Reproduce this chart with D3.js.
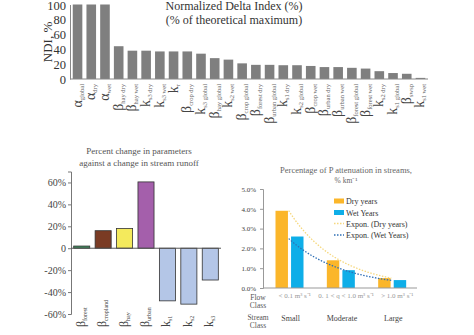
<!DOCTYPE html>
<html>
<head>
<meta charset="utf-8">
<script src="https://cdn.jsdelivr.net/npm/d3@7"></script>
<style>
body { margin: 0; background: #fff; }
svg text { font-family: "Liberation Serif", "Times New Roman", serif; }
</style>
</head>
<body>
<div id="chart"></div>
<script>
// top panel - normalized delta index
var ndiSymbols = ["α","α","α","β","β","k","k","k","β","k","β","k","β","β","β","k","k","β","β","β","β","β","k","k","β","k"];
var ndiSubs = ["global","dry","wet","hay dry","hay wet","s3 dry","s3 wet","r","crop dry","s3 global","hay global","s2 wet",
    "crop global","forest dry","urban global","s1 dry","s2 global","crop wet","urban dry","urban wet","forest global",
    "forest wet","s2 dry","s1 global","swsp","s1 wet"];
var ndiValues = [100,100,100,44,38,38,37,37,37,34,28,26,21,19,19,18.5,18.5,17.5,16,16,15,14,10.5,8,7,1.5];
var ndiTicks = [0,20,40,60,80,100];

// bottom left - percent change in parameters
var pcSymbols = ["β","β","β","β","k","k","k"];
var pcSubs = ["forest","cropland","hay","urban","s1","s2","s3"];
var pcValues = [2,16,18,60.5,-48,-51,-29];
var pcColors = ["#3f8f5f","#7a3b24","#f4ea5c","#a45fab","#b4c6e7","#b4c6e7","#b4c6e7"];
var pcTicks = [-60,-40,-20,0,20,40,60];

// bottom right - P attenuation
var streamClasses = ["Small","Moderate","Large"];
var flowClasses = ["< 0.1 m³ s⁻¹","0. 1 < q < 1.0 m³ s⁻¹","> 1.0 m³ s⁻¹"];
var dryYears = [3.9,1.4,0.5];
var wetYears = [2.6,0.9,0.4];
var attTicks = [0,1,2,3,4,5];

var svg = d3.select("#chart").append("svg")
    .attr("width", 474)
    .attr("height", 335);

function styleAxis(g, color) {
    g.selectAll("path, line").attr("stroke", color);
    g.select(".domain").attr("stroke", color);
}

// ---------- top chart ----------
function drawNdi() {
    var idx = d3.range(ndiValues.length);
    var x = d3.scaleBand().domain(idx).range([70, 428]).paddingInner(0.3).paddingOuter(0.2);
    var y = d3.scaleLinear().domain([0, 100]).range([79, 4.5]);

    svg.append("g").selectAll("rect")
        .data(idx)
        .enter().append("rect")
        .attr("x", function (i) { return x(i); })
        .attr("y", function (i) { return y(ndiValues[i]); })
        .attr("width", x.bandwidth())
        .attr("height", function (i) { return y(0) - y(ndiValues[i]); })
        .attr("fill", "#7f7f7f");

    var ya = svg.append("g")
        .attr("transform", "translate(70,0)")
        .call(d3.axisLeft(y).tickValues(ndiTicks).tickSize(0).tickPadding(4));
    ya.selectAll("text").attr("font-size", 12.5).attr("fill", "#333")
        .attr("dy", "0.36em")
        .style("font-family", "Liberation Serif");
    styleAxis(ya, "#888");

    svg.append("line")
        .attr("x1", 70).attr("x2", 428)
        .attr("y1", y(0)).attr("y2", y(0))
        .attr("stroke", "#888");

    var lab = svg.append("g").selectAll("text")
        .data(idx)
        .enter().append("text")
        .attr("transform", function (i) {
            return "translate(" + (x(i) + x.bandwidth() / 2 + 4) + ",84) rotate(-90)";
        })
        .attr("text-anchor", "end")
        .attr("fill", "#444");
    lab.append("tspan").attr("font-size", 14).text(function (i) { return ndiSymbols[i]; });
    lab.append("tspan").attr("font-size", 6.5).attr("dy", 2).attr("fill", "#666").text(function (i) { return ndiSubs[i]; });

    svg.append("text")
        .attr("transform", "translate(52,42) rotate(-90)")
        .attr("text-anchor", "middle")
        .attr("font-size", 13)
        .attr("fill", "#333")
        .text("NDI, %");

    svg.append("text").attr("x", 234).attr("y", 10).attr("text-anchor", "middle")
        .attr("font-size", 12).attr("fill", "#333").text("Normalized Delta Index (%)");
    svg.append("text").attr("x", 234).attr("y", 24).attr("text-anchor", "middle")
        .attr("font-size", 12).attr("fill", "#333").text("(% of theoretical maximum)");
}

// ---------- bottom left ----------
function drawPercentChange() {
    var idx = d3.range(pcValues.length);
    var x = d3.scaleBand().domain(idx).range([71, 221]).paddingInner(0.25).paddingOuter(0.125);
    var y = d3.scaleLinear().domain([-60, 70]).range([314, 171.5]);

    svg.append("g").selectAll("rect")
        .data(idx)
        .enter().append("rect")
        .attr("x", function (i) { return x(i); })
        .attr("y", function (i) { return y(Math.max(0, pcValues[i])); })
        .attr("width", x.bandwidth())
        .attr("height", function (i) { return Math.abs(y(pcValues[i]) - y(0)); })
        .attr("fill", function (i) { return pcColors[i]; })
        .attr("stroke", "#333")
        .attr("stroke-width", 0.8);

    var ya = svg.append("g")
        .attr("transform", "translate(71,0)")
        .call(d3.axisLeft(y).tickValues(pcTicks).tickSize(3).tickPadding(2)
            .tickFormat(function (d) { return d === 0 ? "0" : d + "%"; }));
    ya.selectAll("text").attr("font-size", 10).attr("fill", "#444")
        .style("font-family", "Liberation Serif");
    styleAxis(ya, "#777");

    svg.append("line")
        .attr("x1", 71).attr("x2", 221)
        .attr("y1", y(0)).attr("y2", y(0))
        .attr("stroke", "#555");

    var lab = svg.append("g").selectAll("text")
        .data(idx)
        .enter().append("text")
        .attr("transform", function (i) {
            return "translate(" + (x(i) + x.bandwidth() / 2 + 3) + ",327) rotate(-90)";
        })
        .attr("text-anchor", "start")
        .attr("fill", "#444");
    lab.append("tspan").attr("font-size", 12).text(function (i) { return pcSymbols[i]; });
    lab.append("tspan").attr("font-size", 6).attr("dy", 2).text(function (i) { return pcSubs[i]; });

    svg.append("text").attr("x", 139).attr("y", 154).attr("text-anchor", "middle")
        .attr("font-size", 9).attr("fill", "#555").text("Percent change in parameters");
    svg.append("text").attr("x", 139).attr("y", 166).attr("text-anchor", "middle")
        .attr("font-size", 9).attr("fill", "#555").text("against a change in stream runoff");
}

// exponential trend like excel: y = a * exp(b * n), n = 1..k
function expFit(vals) {
    var xs = vals.map(function (v, i) { return i + 1; });
    var ls = vals.map(function (v) { return Math.log(v); });
    var mx = d3.mean(xs), ml = d3.mean(ls);
    var num = d3.sum(xs, function (xv, i) { return (xv - mx) * (ls[i] - ml); });
    var den = d3.sum(xs, function (xv) { return (xv - mx) * (xv - mx); });
    var b = num / den;
    var a = Math.exp(ml - b * mx);
    return function (n) { return a * Math.exp(b * n); };
}

// ---------- bottom right ----------
function drawAttenuation() {
    var x = d3.scaleBand().domain(streamClasses).range([263, 417]);
    var sub = d3.scaleBand().domain(["dry", "wet"]).range([12.5, 40.5]).paddingInner(0.2);
    var y = d3.scaleLinear().domain([0, 5]).range([288, 189]);

    var series = [
        { key: "dry", vals: dryYears, color: "#fbb62a", trend: "#f6d87e", label: "Dry years" },
        { key: "wet", vals: wetYears, color: "#0eaee8", trend: "#2f6fb5", label: "Wet Years" }
    ];

    series.forEach(function (s) {
        svg.append("g").selectAll("rect")
            .data(streamClasses)
            .enter().append("rect")
            .attr("x", function (c) { return x(c) + sub(s.key); })
            .attr("y", function (c, i) { return y(s.vals[i]); })
            .attr("width", sub.bandwidth())
            .attr("height", function (c, i) { return y(0) - y(s.vals[i]); })
            .attr("fill", s.color);
    });

    var xn = d3.scaleLinear().domain([1, 3])
        .range([x("Small") + x.bandwidth() / 2, x("Large") + x.bandwidth() / 2]);
    var line = d3.line()
        .x(function (d) { return xn(d[0]); })
        .y(function (d) { return y(d[1]); });

    series.forEach(function (s) {
        var f = expFit(s.vals);
        var pts = d3.range(1, 3.001, 0.05).map(function (n) { return [n, f(n)]; });
        svg.append("path")
            .attr("d", line(pts))
            .attr("fill", "none")
            .attr("stroke", s.trend)
            .attr("stroke-width", 1.3)
            .attr("stroke-dasharray", "1.5,1.5");
    });

    var ya = svg.append("g")
        .attr("transform", "translate(263,0)")
        .call(d3.axisLeft(y).tickValues(attTicks).tickSize(3).tickPadding(4)
            .tickFormat(function (d) { return d.toFixed(1) + "%"; }));
    ya.selectAll("text").attr("font-size", 7).attr("fill", "#444")
        .style("font-family", "Liberation Serif");
    styleAxis(ya, "#999");

    svg.append("line")
        .attr("x1", 263).attr("x2", 417)
        .attr("y1", y(0)).attr("y2", y(0))
        .attr("stroke", "#999");

    // category labels
    svg.append("g").selectAll("text")
        .data(flowClasses)
        .enter().append("text")
        .attr("x", function (d, i) { return x(streamClasses[i]) + x.bandwidth() / 2 + 6; })
        .attr("y", 298)
        .attr("text-anchor", "middle")
        .attr("font-size", 7)
        .attr("fill", "#999")
        .text(function (d) { return d; });

    svg.append("g").selectAll("text")
        .data(streamClasses)
        .enter().append("text")
        .attr("x", function (d) { return x(d) + x.bandwidth() / 2 + 2; })
        .attr("y", 321)
        .attr("text-anchor", "middle")
        .attr("font-size", 8)
        .attr("fill", "#444")
        .text(function (d) { return d; });

    var side = [["Flow", 300], ["Class", 308], ["Stream", 320], ["Class", 328]];
    svg.append("g").selectAll("text")
        .data(side)
        .enter().append("text")
        .attr("x", 258)
        .attr("y", function (d) { return d[1]; })
        .attr("text-anchor", "middle")
        .attr("font-size", 7.5)
        .attr("fill", "#555")
        .text(function (d) { return d[0]; });

    // legend
    var lg = svg.append("g").attr("transform", "translate(334,0)");
    series.forEach(function (s, i) {
        var yy = 201 + i * 11.5;
        lg.append("rect").attr("x", 0).attr("y", yy - 2.5).attr("width", 10).attr("height", 5).attr("fill", s.color);
        lg.append("text").attr("x", 12).attr("y", yy + 3).attr("font-size", 8).attr("fill", "#333").text(s.label);
    });
    series.forEach(function (s, i) {
        var yy = 223.5 + i * 11.5;
        lg.append("line").attr("x1", 0).attr("x2", 10).attr("y1", yy).attr("y2", yy)
            .attr("stroke", s.trend).attr("stroke-width", 1.3).attr("stroke-dasharray", "1.5,1.5");
        lg.append("text").attr("x", 12).attr("y", yy + 3).attr("font-size", 8).attr("fill", "#333")
            .text("Expon. (" + s.label + ")");
    });

    svg.append("text").attr("x", 346).attr("y", 173).attr("text-anchor", "middle")
        .attr("font-size", 8.5).attr("fill", "#666").text("Percentage of P attenuation in streams,");
    svg.append("text").attr("x", 346).attr("y", 183).attr("text-anchor", "middle")
        .attr("font-size", 7.5).attr("fill", "#666").text("% km⁻¹");
}

drawNdi();
drawPercentChange();
drawAttenuation();
</script>
</body>
</html>
